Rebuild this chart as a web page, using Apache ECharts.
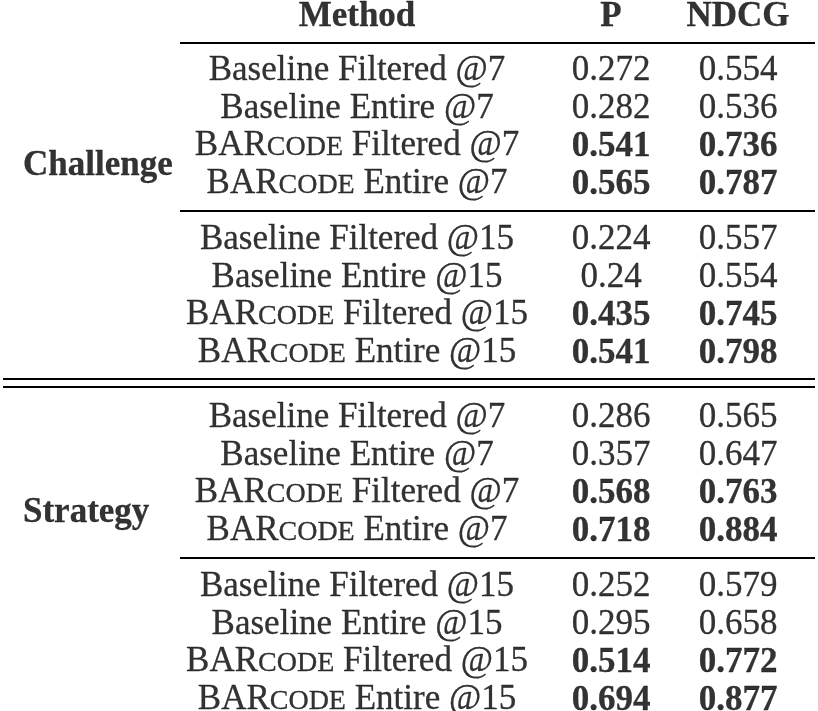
<!DOCTYPE html>
<html>
<head>
<meta charset="utf-8">
<script src="https://cdn.jsdelivr.net/npm/echarts@6/dist/echarts.min.js"></script>
<style>
html,body{margin:0;padding:0;background:#fff;}
#chart{width:818px;height:711px;}
</style>
</head>
<body>
<div id="chart"></div>
<script>
// ---- data ----
const headers = ['Method', 'P', 'NDCG'];
const groups = ['Challenge', 'Strategy'];
const methods = ['Baseline Filtered', 'Baseline Entire', 'BARCODE Filtered', 'BARCODE Entire'];
const cutoffs = ['@7', '@15'];
const challengeP    = [0.272, 0.282, 0.541, 0.565, 0.224, 0.24, 0.435, 0.541];
const challengeNDCG = [0.554, 0.536, 0.736, 0.787, 0.557, 0.554, 0.745, 0.798];
const strategyP     = [0.286, 0.357, 0.568, 0.718, 0.252, 0.295, 0.514, 0.694];
const strategyNDCG  = [0.565, 0.647, 0.763, 0.884, 0.579, 0.658, 0.772, 0.877];
const bestMethods = ['BARCODE Filtered', 'BARCODE Entire'];

// ---- layout (pixel-like value axes) ----
const W = 818, H = 711;
const colX = { group: 23, method: 357, p: 611, ndcg: 738 };
const headerY = 14, firstRowY = 68, rowStep = 38, subGap = 55, groupGap = 64;
const FONT = "'Liberation Serif', 'Times New Roman', serif";
const FS = 35, SC = 28, DY = 3, RICH_DY = -1;
const BW = 0.3;

const groupP = [challengeP, strategyP];
const groupN = [challengeNDCG, strategyNDCG];

const baseTok = { fontFamily: FONT, color: '#000', textBorderColor: '#000', textBorderWidth: BW, lineHeight: 40, verticalAlign: 'bottom' };
const richStyles = {
  big: Object.assign({ fontSize: FS }, baseTok),
  sc: Object.assign({ fontSize: SC, padding: [0, 0, 1.6, 0] }, baseTok)
};

const textData = [];
function addText(x, y, text, bold, opts) {
  const label = Object.assign({ formatter: text, fontWeight: bold ? 'bold' : 'normal' }, opts || {});
  textData.push({ value: [x, y], label: label });
}
headers.forEach((h, i) => addText([colX.method, colX.p, colX.ndcg][i], headerY, h, true));

const ruleData = [];
let y = firstRowY;
const subRuleYs = [];
groups.forEach((g, gi) => {
  const rowYs = [];
  cutoffs.forEach((k, ki) => {
    methods.forEach((m, mi) => {
      const idx = ki * methods.length + mi;
      const bold = bestMethods.indexOf(m) >= 0;
      if (m.startsWith('BARCODE')) {
        const label = '{big|BAR}{sc|CODE}{big|' + m.slice(7) + ' ' + k + '}';
        addText(colX.method, y, label, false, { rich: richStyles, offset: [0, RICH_DY] });
      } else {
        addText(colX.method, y, m + ' ' + k, false);
      }
      addText(colX.p, y, String(groupP[gi][idx]), bold);
      addText(colX.ndcg, y, String(groupN[gi][idx]), bold);
      rowYs.push(y);
      if (mi < methods.length - 1) y += rowStep;
    });
    if (ki < cutoffs.length - 1) {
      subRuleYs.push(y + subGap / 2);
      y += subGap;
    }
  });
  addText(colX.group, (rowYs[2] + rowYs[3]) / 2, g, true, { align: 'left' });
  if (gi < groups.length - 1) {
    const mid = y + groupGap / 2;
    ruleData.push({ coords: [[3, mid - 4], [815, mid - 4]] });
    ruleData.push({ coords: [[3, mid + 4], [815, mid + 4]] });
    y += groupGap;
  }
});
ruleData.push({ coords: [[180, 42.5], [815, 42.5]] });
subRuleYs.forEach(v => ruleData.push({ coords: [[180, v + 1], [815, v + 1]] }));

const chart = echarts.init(document.getElementById('chart'), null, { renderer: 'canvas' });
chart.setOption({
  animation: false,
  backgroundColor: '#fff',
  grid: { left: 0, right: 0, top: 0, bottom: 0 },
  xAxis: { type: 'value', min: 0, max: W, show: false },
  yAxis: { type: 'value', min: 0, max: H, inverse: true, show: false },
  series: [
    {
      type: 'lines',
      coordinateSystem: 'cartesian2d',
      silent: true,
      lineStyle: { color: '#000', width: 1.8, opacity: 1 },
      data: ruleData
    },
    {
      type: 'scatter',
      symbolSize: 0,
      silent: true,
      label: {
        show: true,
        position: 'inside',
        offset: [0, DY],
        align: 'center',
        verticalAlign: 'middle',
        color: '#000',
        textBorderColor: '#000',
        textBorderWidth: BW,
        fontFamily: FONT,
        fontSize: FS
      },
      data: textData
    }
  ]
});
</script>
</body>
</html>
